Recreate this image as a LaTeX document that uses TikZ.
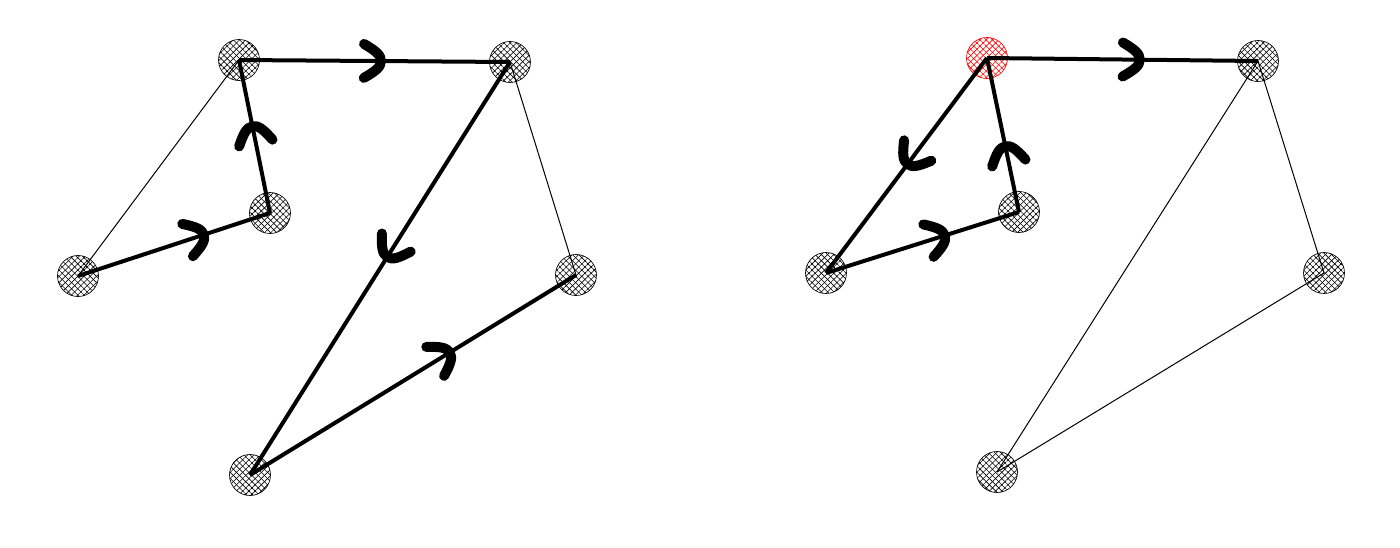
\documentclass[tikz,border=0pt]{standalone}
\usetikzlibrary{patterns.meta,decorations.markings}
\begin{document}
\begin{tikzpicture}[x=0.75pt,y=0.75pt,yscale=-1,xscale=1,
  vertex/.style={circle,draw,line width=0.5pt,minimum size=30.75pt,inner sep=0pt,
    pattern={Lines[angle=45,distance=3.3pt,line width=0.45pt]},
    postaction={pattern={Lines[angle=-45,distance=3.3pt,line width=0.45pt]}}},
  start/.style={vertex,draw=red,pattern color=red},
  thinedge/.style={line width=0.75pt},
  tour/.style={line width=3pt},
  chevron/.style={postaction={decorate,decoration={markings,mark=at position #1 with {\draw[line width=7.5pt,line cap=round,line join=round] (-16,-17) .. controls (-4,-10) and (1,-6) .. (1,0) .. controls (1,6) and (-4,10) .. (-16,17);}}}}
]
\useasboundingbox (0,0) rectangle (1400,547);

%Shape: left graph vertices
\node [vertex] (a1) at (239,60) {};
\node [vertex] (b1) at (510,62) {};
\node [vertex] (c1) at (270,213) {};
\node [vertex] (d1) at (78,276) {};
\node [vertex] (e1) at (576,275) {};
\node [vertex] (f1) at (250,475) {};

%Shape: right graph vertices
\node [start] (a2) at (987,58) {};
\node [vertex] (b2) at (1258,61) {};
\node [vertex] (c2) at (1019,212) {};
\node [vertex] (d2) at (826,273) {};
\node [vertex] (e2) at (1324,273) {};
\node [vertex] (f2) at (997,472) {};

%Shape: left graph edges
\draw [thinedge] (d1.center) -- (a1.center);
\draw [thinedge] (b1.center) -- (e1.center);
\draw [tour,chevron=0.52] (a1.center) -- (b1.center);
\draw [tour,chevron=0.56] (c1.center) -- (a1.center);
\draw [tour,chevron=0.65] (d1.center) -- (c1.center);
\draw [tour,chevron=0.47] (b1.center) -- (f1.center);
\draw [tour,chevron=0.61] (f1.center) -- (e1.center);

%Shape: right graph edges
\draw [thinedge] (b2.center) -- (e2.center);
\draw [thinedge] (b2.center) -- (f2.center);
\draw [thinedge] (f2.center) -- (e2.center);
\draw [tour,chevron=0.56] (a2.center) -- (b2.center);
\draw [tour,chevron=0.49] (a2.center) -- (d2.center);
\draw [tour,chevron=0.61] (d2.center) -- (c2.center);
\draw [tour,chevron=0.42] (c2.center) -- (a2.center);

\end{tikzpicture}
\end{document}
